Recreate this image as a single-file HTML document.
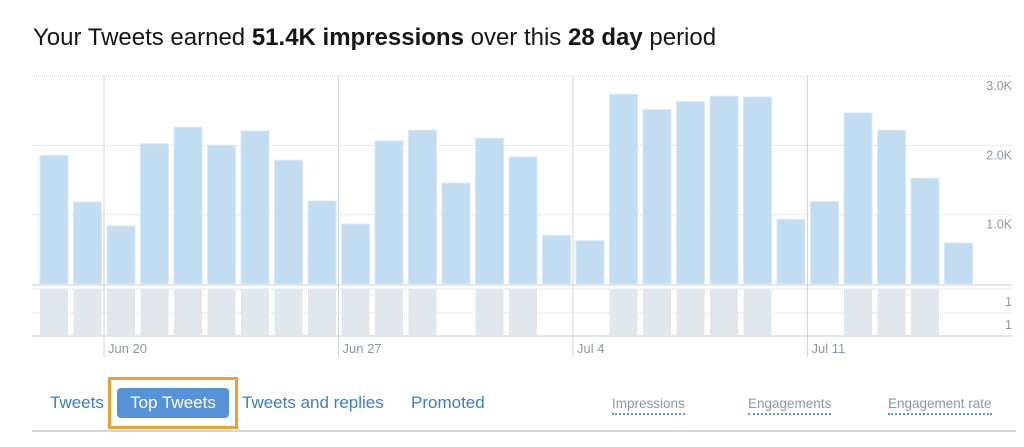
<!DOCTYPE html>
<html><head><meta charset="utf-8"><style>
body{margin:0;width:1024px;height:447px;background:#fff;font-family:"Liberation Sans",sans-serif;overflow:hidden;position:relative}
.t{position:absolute;white-space:nowrap}
</style></head><body>
<div class="t" style="left:33px;top:24px;font-size:24px;color:#14171a">Your Tweets earned <b>51.4K impressions</b> over this <b>28 day</b> period</div>
<svg id="c" width="1024" height="370" style="position:absolute;left:0;top:0"></svg>
<div class="t" style="left:50px;top:393px;font-size:17px;color:#3b7fc4">Tweets</div>
<div style="position:absolute;left:108px;top:377px;width:124px;height:46px;border:3px solid #f0a030"></div>
<div class="t" style="left:117px;top:388px;width:112px;height:30px;border-radius:4px;background:#5593d6;color:#fff;font-size:17px;line-height:30px;text-align:center">Top Tweets</div>
<div class="t" style="left:242px;top:393px;font-size:17px;color:#3b7fc4">Tweets and replies</div>
<div class="t" style="left:411px;top:393px;font-size:17px;color:#3b7fc4">Promoted</div>
<div class="t" style="left:612px;top:396px;font-size:13.5px;color:#8899a6;border-bottom:2px dotted #5b9bd5;padding-bottom:2px">Impressions</div>
<div class="t" style="left:748px;top:396px;font-size:13.5px;color:#8899a6;border-bottom:2px dotted #5b9bd5;padding-bottom:2px">Engagements</div>
<div class="t" style="left:888px;top:396px;font-size:13.5px;color:#8899a6;border-bottom:2px dotted #5b9bd5;padding-bottom:2px">Engagement rate</div>
<div style="position:absolute;left:32px;top:430px;width:984px;height:2px;background:#d0d6db"></div>
<script>
const impressions=[1857,1183,837,2025,2261,2001,2208,1785,1198,866,2063,2218,1457,2102,1833,702,625,2737,2516,2631,2708,2698,933,1188,2468,2218,1525,592,0];
const engagements=[1,1,1,1,1,1,1,1,1,1,1,1,0,1,1,0,0,1,1,1,1,1,0,0,1,1,1,0,0];
const yTicks=[1000,2000,3000];
const yTickLabels=["1.0K","2.0K","3.0K"];
const weekLabels=["Jun 20","Jun 27","Jul 4","Jul 11"];
const weekStartIdx=[2,9,16,23];
const svg=document.getElementById('c');const NS='http://www.w3.org/2000/svg';
const base=284,pxPerK=69.3,x0=40,step=33.5,bw=28;
const y=v=>base-v/1000*pxPerK;const x=i=>x0+i*step;
const eTop=289,eBase=336;const ey=v=>eBase-v*(eBase-eTop);
function mk(t,a){const e=document.createElementNS(NS,t);for(const k in a)e.setAttribute(k,a[k]);svg.appendChild(e);return e;}
let g=mk('line',{x1:32,x2:1012,y1:76,y2:76,stroke:'#ccd6dd','stroke-dasharray':'1,1'});

yTicks.forEach((v,i)=>{
 const l=mk('line',{x1:32,x2:1012,y1:y(v),y2:y(v),stroke:'#ccd6dd','stroke-dasharray':'1,1'});
 
 const t=mk('text',{x:1012,y:y(v)+14,'text-anchor':'end','font-size':12.5,fill:'#8899a6'});t.textContent=yTickLabels[i];
 
});
[eTop,313].forEach(yy=>{const l=mk('line',{x1:32,x2:1012,y1:yy,y2:yy,stroke:'#ccd6dd','stroke-dasharray':'1,1'});
 });
[302,325].forEach(yy=>{const t=mk('text',{x:1012,y:yy+4,'text-anchor':'end','font-size':12.5,fill:'#8899a6'});t.textContent='1';
 });
impressions.forEach((v,i)=>{const h=Math.max(base-y(v),0);
 const r=mk('rect',{x:x(i),y:y(v),width:bw,height:h,fill:'#c2dcf2',stroke:'#d8e8f6','stroke-width':1});
 });
engagements.forEach((v,i)=>{const h=v?eBase-ey(v):1;
 const r=mk('rect',{x:x(i),y:v?ey(v):eBase-1,width:bw,height:h,fill:v?'#e1e8ed':'#ccd6dd'});
 });
let b=mk('line',{x1:32,x2:1012,y1:base+1,y2:base+1,stroke:'#e1e8ed','stroke-width':2});

b=mk('line',{x1:32,x2:1012,y1:eBase,y2:eBase,stroke:'#e1e8ed','stroke-width':2});

weekStartIdx.forEach((idx,i)=>{const lx=x(idx)-3;
 const l=mk('line',{x1:lx,x2:lx,y1:76,y2:357,stroke:'#ccd6dd'});
 
 const t=mk('text',{x:lx+4,y:353,'font-size':13,fill:'#8899a6'});t.textContent=weekLabels[i];
 });
</script>
</body></html>
